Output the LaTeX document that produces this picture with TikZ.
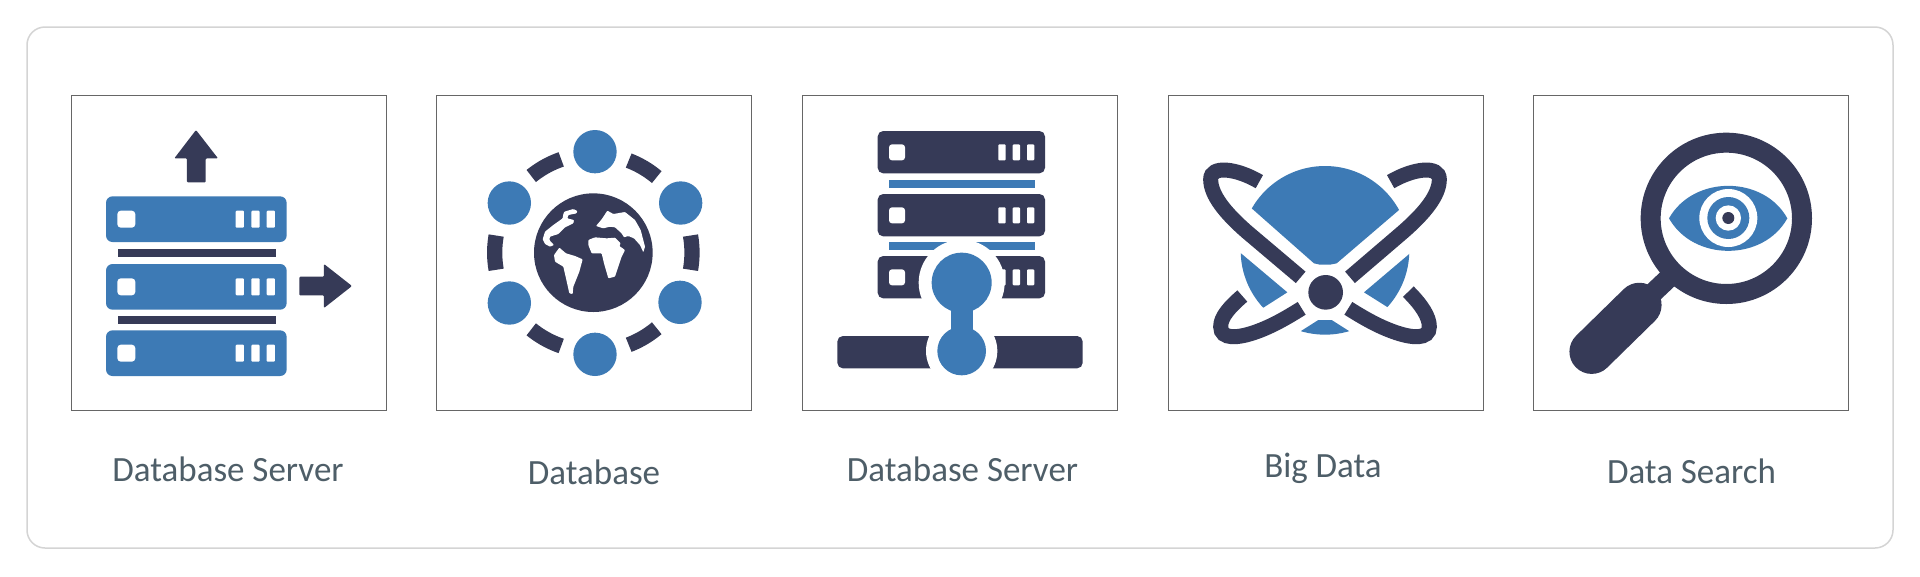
\documentclass[tikz,border=0pt]{standalone}
\usepackage{fontspec}
\setmainfont[FakeStretch=0.985]{Carlito}
\definecolor{icondark}{HTML}{363A57}
\definecolor{iconblue}{HTML}{3D7AB5}
\definecolor{labeltext}{HTML}{4E5E68}
\tikzset{
	darkfill/.style={fill=icondark,draw=none},
	bluefill/.style={fill=iconblue,draw=none},
	whitefill/.style={fill=white,draw=none},
	framebox/.style={draw=black!60,line width=0.2mm},
	orbitline/.style={draw=icondark,line width=3mm},
	ringline/.style={draw=icondark,line width=3.05mm},
	caption/.style={anchor=base,text=labeltext,inner sep=0pt,font=\fontsize{20.2}{24}\selectfont}
}
\begin{document}
\begin{tikzpicture}[x=0.2mm,y=-0.2mm]

	\useasboundingbox (0,0) rectangle (1920,576);
	\fill[white] (0,0) rectangle (1920,576);
	\draw[draw=black!17,line width=0.3mm,rounded corners=3.6mm] (27,27) rectangle (1893,548);

	\foreach \fx in {71,436.7,802.3,1168,1533.7}
		\draw[framebox] (\fx,95.7) rectangle (\fx+315,410.7);

	% first server, arrows
	\begin{scope}[shift={(60,90)},scale=1/3]
		\foreach \sy in {319,522,721} {
			\fill[bluefill,rounded corners=1.3mm] (138,\sy) rectangle (680,\sy+137);
			\fill[whitefill,rounded corners=0.7mm] (172,\sy+43) rectangle (226,\sy+94);
			\foreach \bx in {527,574,620}
				\fill[whitefill,rounded corners=0.2mm] (\bx,\sy+43) rectangle (\bx+25,\sy+94);
		}
		\fill[darkfill] (175,476) rectangle (647,500);
		\fill[darkfill] (175,678) rectangle (647,702);
		\fill[darkfill,rounded corners=0.2mm] (408,120) -- (474,205) -- (437,205) -- (437,277) -- (381,277) -- (381,205) -- (343,205) -- cycle;
		\fill[darkfill,rounded corners=0.2mm] (876,588) -- (792,654) -- (792,616) -- (718,616) -- (718,560) -- (792,560) -- (792,522) -- cycle;
	\end{scope}

	% globe
	\begin{scope}[shift={(430,90)},scale=1/3]
		\fill[darkfill] (490,488) circle (178);
		\foreach \cx/\cy in {495/185,238/339,752/339,238/639,750/637,495/793}
			\fill[bluefill] (\cx,\cy) circle (65);
		\foreach \sa/\ea in {231/251,291/310,350/370,50/69,109/129,170/190}
			\draw[ringline] plot[domain=\sa:\ea,samples=10] ({490+296*cos(\x)},{488+296*sin(\x)});
	\end{scope}
	\begin{scope}[shift={(530,190)},scale=1/3]
		\fill[whitefill,rounded corners=0.15mm] (103,65) -- (130,57) -- (142,63) -- (140,70) -- (115,75) -- (112,85) -- (132,90) -- (130,100) -- (105,112) -- (85,132) -- (60,140) -- (58,150) -- (72,165) -- (60,170) -- (45,162) -- (38,148) -- (45,125) -- (70,105) -- (98,85) -- (100,72) -- cycle;
		\fill[whitefill,rounded corners=0.15mm] (72,195) -- (88,173) -- (108,190) -- (135,198) -- (158,208) -- (148,245) -- (130,290) -- (128,312) -- (118,310) -- (108,265) -- (100,230) -- (75,215) -- cycle;
		\fill[whitefill,rounded corners=0.15mm] (198,108) -- (215,88) -- (232,62) -- (250,72) -- (285,66) -- (315,90) -- (332,120) -- (345,170) -- (340,187) -- (330,165) -- (312,145) -- (295,138) -- (282,142) -- (275,130) -- (255,112) -- (240,110) -- (220,115) -- cycle;
		\fill[whitefill,rounded corners=0.15mm] (175,150) -- (195,142) -- (230,145) -- (255,143) -- (262,150) -- (272,160) -- (268,168) -- (285,180) -- (275,200) -- (255,260) -- (235,265) -- (222,220) -- (215,190) -- (185,190) -- (175,165) -- cycle;
	\end{scope}

	% second server, network
	\begin{scope}[shift={(795,90)},scale=1/3]
		\foreach \sy in {123,312,498} {
			\fill[darkfill,rounded corners=1.1mm] (248,\sy) rectangle (750,\sy+127);
			\fill[whitefill,rounded corners=0.6mm] (282,\sy+40) rectangle (330,\sy+88);
			\foreach \bx in {610,653,696}
				\fill[whitefill,rounded corners=0.2mm] (\bx,\sy+40) rectangle (\bx+22,\sy+88);
		}
		\fill[bluefill] (282,270) rectangle (720,293);
		\fill[bluefill] (282,457) rectangle (720,480);
		\fill[darkfill,rounded corners=1.1mm] (127,738) rectangle (863,835);
		\fill[whitefill] (500,578) circle (129);
		\fill[whitefill] (500,783) circle (107);
		\fill[bluefill] (500,578) circle (90);
		\fill[bluefill] (500,783) circle (73);
		\fill[bluefill] (467,640) rectangle (533,740);
	\end{scope}

	% planet, orbits
	\begin{scope}[shift={(1160,90)},scale=1/3]
		\begin{scope}
			\clip (495,481) circle (253);
			\fill[bluefill] (275,355) -- (275,200) -- (717,200) -- (717,360) -- (530,520) -- (510,524) -- (480,524) -- (462,520) -- cycle;
			\fill[bluefill] (243,490) -- (200,480) -- (200,700) -- (310,653) -- (382,607) -- cycle;
			\fill[bluefill] (750,490) -- (790,480) -- (790,700) -- (685,653) -- (612,607) -- cycle;
			\fill[bluefill] (423,723) -- (475,690) -- (515,690) -- (570,725) -- (570,780) -- (423,780) -- cycle;
		\end{scope}
		\draw[orbitline] (422,562) -- (260,425) .. controls (195,368) and (152,315) .. (152,268) .. controls (152,225) and (230,235) .. (298,275);
		\draw[orbitline] (570,562) -- (730,425) .. controls (795,368) and (838,315) .. (838,268) .. controls (838,225) and (760,235) .. (692,275);
		\draw[orbitline] (247,618) .. controls (210,650) and (182,680) .. (182,710) .. controls (182,750) and (235,745) .. (290,725) .. controls (340,707) and (385,680) .. (425,655);
		\draw[orbitline] (745,605) .. controls (785,645) and (808,680) .. (808,710) .. controls (808,750) and (755,745) .. (700,725) .. controls (650,707) and (605,680) .. (565,655);
		\fill[darkfill] (497,607) circle (52);
	\end{scope}

	% lens, eye
	\begin{scope}[shift={(1525,90)},scale=1/3]
		\draw[draw=icondark,line width=4mm] (604,385) circle (227);
		\draw[draw=icondark,line width=4mm] (430,565) -- (340,650);
		\draw[draw=icondark,line width=8.9mm,line cap=round] (343,645) -- (200,785);
		\fill[bluefill] (432,385) .. controls (505,255) and (715,255) .. (787,385) .. controls (715,515) and (505,515) .. (432,385) -- cycle;
		\fill[whitefill] (610,384) circle (87);
		\fill[bluefill] (610,384) circle (63);
		\fill[whitefill] (610,384) circle (38);
		\fill[darkfill] (610,384) circle (18);
	\end{scope}

	\node[caption] (serverlabel) at (228,481) {Database Server};
	\node[caption] (baselabel) at (594,484) {Database};
	\node[caption] (networklabel) at (962.5,481) {Database Server};
	\node[caption] (biglabel) at (1323,477) {Big Data};
	\node[caption] (searchlabel) at (1691.5,483) {Data Search};

\end{tikzpicture}
\end{document}
